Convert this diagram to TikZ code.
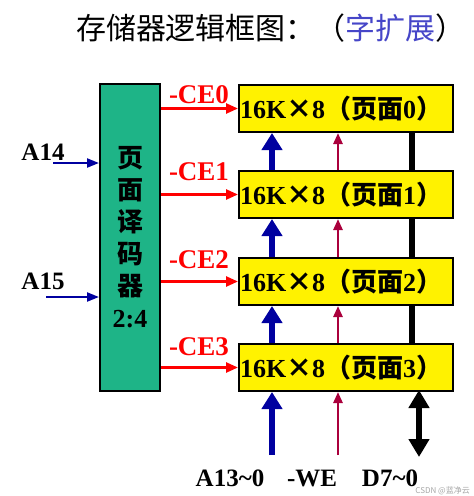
\documentclass[tikz,border=0pt]{standalone}
\usepackage{fontspec}
\setmainfont{Liberation Serif}
\newfontfamily\cjk{Noto Sans CJK SC}
\usetikzlibrary{arrows.meta,calc}
\definecolor{decteal}{RGB}{30,180,135}
\definecolor{navy}{RGB}{0,0,160}
\definecolor{wered}{RGB}{170,0,60}
\definecolor{titleblue}{RGB}{70,70,200}
\newcommand{\chiptxt}[1]{{\bfseries 16K}{\cjk ×}{\bfseries 8}{\cjk\bfseries （页面}{\bfseries #1}{\cjk\bfseries ）}}
\begin{document}
\begin{tikzpicture}[x=1pt,y=-1pt,
  chipbox/.style={draw=black, line width=2pt, fill=yellow, minimum width=214pt, minimum height=47pt,
    anchor=north west, inner sep=1pt, text width=212pt, align=left,
    font=\fontsize{26}{30}\selectfont\bfseries},
  decbox/.style={draw=black, line width=2pt, fill=decteal, minimum width=60pt, minimum height=307pt,
    anchor=north west, inner sep=0pt, align=center, font=\fontsize{26}{32}\selectfont\bfseries},
  lbl/.style={font=\fontsize{25}{25}\selectfont\bfseries, inner sep=0pt},
  celbl/.style={lbl, font=\fontsize{27}{27}\selectfont\bfseries, text=red},
  cearrow/.style={red, line width=2.5pt, -{Triangle[width=10pt,length=12pt]}},
  inarrow/.style={navy, line width=2.2pt, -{Triangle[width=9pt,length=12pt]}},
  addrarrow/.style={navy, line width=6.5pt, -{Triangle[width=20pt,length=17pt]}},
  wearrow/.style={wered, line width=2.5pt, -{Triangle[width=9pt,length=11pt]}},
  busline/.style={black, line width=5.5pt},
  busarrow/.style={black, line width=6pt, {Triangle[width=20pt,length=18pt]}-{Triangle[width=20pt,length=18pt]}}
]
\useasboundingbox (0,0) rectangle (474,496);

% title
\node[font=\cjk\fontsize{30}{30}\selectfont, inner sep=0pt] (title) at (271,28)
  {存储器逻辑框图：（\textcolor{titleblue}{字扩展}）};

% decoder
\node[decbox] (dec) at (99,83) {{\cjk 页}\\{\cjk 面}\\{\cjk 译}\\{\cjk 码}\\{\cjk 器}\\2:4};

% chips
\node[chipbox] (chip0) at (238,84) {\chiptxt{0}};
\node[chipbox] (chip1) at (238,170) {\chiptxt{1}};
\node[chipbox] (chip2) at (238,257) {\chiptxt{2}};
\node[chipbox] (chip3) at (238,343) {\chiptxt{3}};

% inputs A14, A15
\node[lbl] (la14) at (43,152) {A14};
\node[lbl] (la15) at (43,281) {A15};
\coordinate (a14s) at (53,163);
\coordinate (a15s) at (46,297);
\draw[inarrow] (a14s) -- (a14s -| dec.west);
\draw[inarrow] (a15s) -- (a15s -| dec.west);

% CE lines
\foreach \i/\y in {0/95,1/172,2/260,3/347}{
  \node[celbl] (ce\i) at (199,\y) {-CE\i};
  \draw[cearrow] (chip\i.west -| dec.east) -- (chip\i.west);
}

% vertical bus positions
\coordinate (bx) at (272,0);
\coordinate (rx) at (338,0);
\coordinate (kx) at (412,0);

\foreach \a/\b in {1/0,2/1,3/2}{
  \draw[addrarrow] (chip\a.north -| bx) -- (chip\b.south -| bx);
  \draw[wearrow] (chip\a.north -| rx) -- (chip\b.south -| rx);
  \draw[busline] (chip\a.north -| kx) -- (chip\b.south -| kx);
}

% bottom inputs
\coordinate (bb) at (272,455);
\coordinate (rb) at (338,455);
\coordinate (kb) at (419,457);
\coordinate (kt) at (419,390);
\draw[addrarrow] (bb) -- (bb |- chip3.south);
\draw[wearrow] (rb) -- (rb |- chip3.south);
\draw[busarrow] (kt) -- (kb);

\node[lbl] (la13) at (230,478) {A13\textasciitilde 0};
\node[lbl] (lwe) at (312,478) {-WE};
\node[lbl] (ld7) at (390,478) {D7\textasciitilde 0};

% watermark
\node[font=\cjk\fontsize{8}{8}\selectfont, text=gray!70, inner sep=0pt, anchor=east] (wm) at (470,491) {CSDN @蓝净云};
\end{tikzpicture}
\end{document}
